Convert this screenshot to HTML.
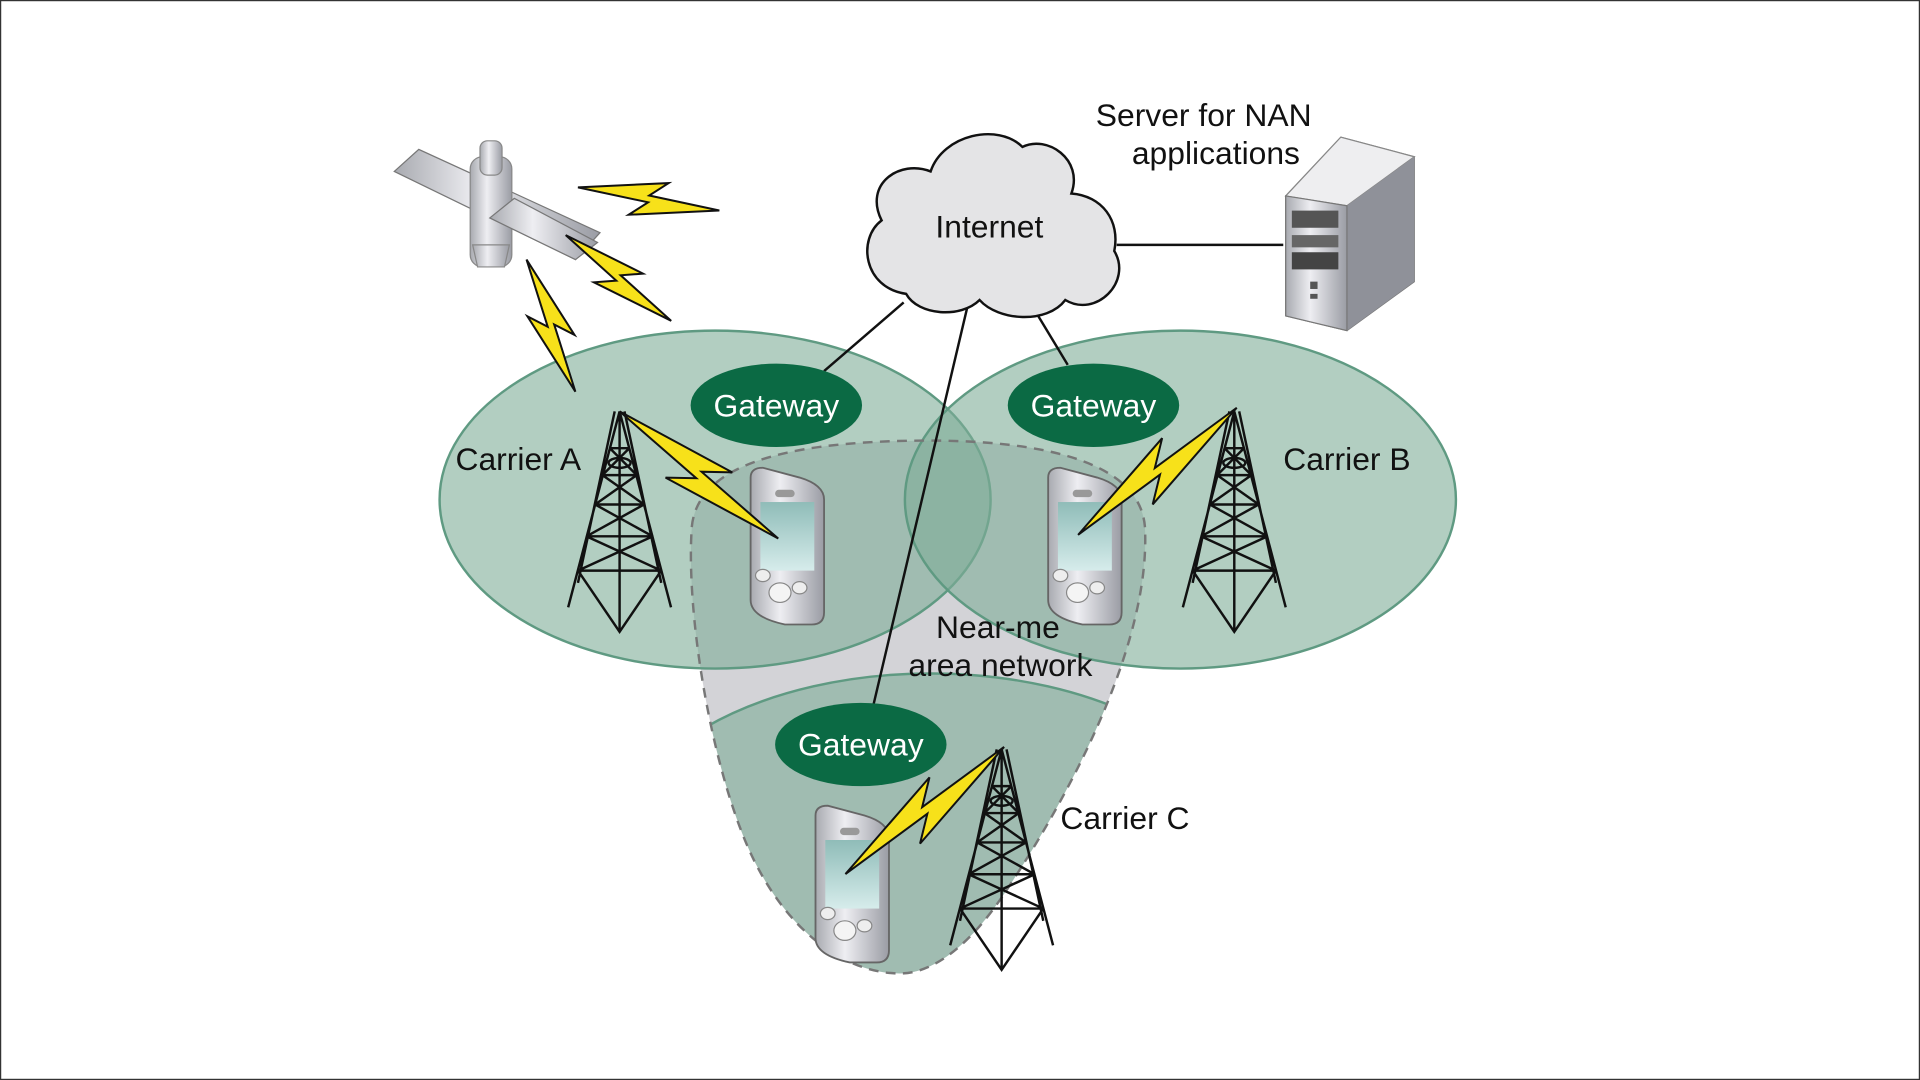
<!DOCTYPE html>
<html><head><meta charset="utf-8"><style>
html,body{margin:0;padding:0;background:#fff;width:1920px;height:1080px;overflow:hidden}
svg{display:block}
text{font-family:"Liberation Sans",sans-serif}
</style></head><body>
<svg width="1920" height="1080" viewBox="0 0 1568 882" xmlns="http://www.w3.org/2000/svg">
<defs>
<clipPath id="nan"><path id="nanp" d="M565,430 C570,380 640,362 740,360 C830,358 930,370 935,430 C940,520 880,640 820,730 C790,775 760,795 735,795 C690,795 640,760 610,690 C580,620 560,500 565,430 Z"/></clipPath>
<linearGradient id="metal" x1="0" x2="1"><stop offset="0" stop-color="#a8aab0"/><stop offset="0.4" stop-color="#eeeef2"/><stop offset="1" stop-color="#9a9ca4"/></linearGradient>
<linearGradient id="scr" x1="0" y1="0" x2="0" y2="1"><stop offset="0" stop-color="#8fbcb8"/><stop offset="1" stop-color="#d6eceb"/></linearGradient>
<polygon id="bolt" points="0,0 0.62,-0.11 0.5,-0.02 1,0 0.38,0.11 0.5,0.02" fill="#f7e11a" stroke="#111" stroke-width="2" vector-effect="non-scaling-stroke" stroke-linejoin="miter"/>
<g id="tower" fill="none" stroke="#111" stroke-width="2">
<path d="M0,0 L-42,160 M0,0 L42,160 M0,0 V180 M-4,0 L-34,140 M4,0 L34,140"/>
<path d="M-8,30 H8 M-14,52 H14 M-20,76 H20 M-27,102 H27 M-34,130 H34 M8,30 L-14,52 M-8,30 L14,52 M-14,52 L20,76 M14,52 L-20,76 M-20,76 L27,102 M20,76 L-27,102 M-27,102 L34,130 M27,102 L-34,130 M-34,130 L0,180 L34,130"/>
<ellipse cx="0" cy="42" rx="9" ry="4"/>
</g>
<g id="phone">
<path d="M0,8 Q0,0 10,0 L40,8 Q60,14 60,26 V118 Q60,128 50,128 L28,128 Q0,122 0,108 Z" fill="url(#metal)" stroke="#666" stroke-width="1.5"/>
<rect x="8" y="28" width="44" height="56" fill="url(#scr)"/>
<rect x="20" y="18" width="16" height="6" rx="3" fill="#999"/>
<ellipse cx="10" cy="88" rx="6" ry="5" fill="#eee" stroke="#888"/>
<ellipse cx="24" cy="102" rx="9" ry="8" fill="#f4f4f4" stroke="#888"/>
<ellipse cx="40" cy="98" rx="6" ry="5" fill="#eee" stroke="#888"/>
</g>
</defs>
<rect x="0.5" y="0.5" width="1567" height="881" fill="#fff" stroke="#333"/>
<use href="#nanp" fill="#d3d3d7"/>
<ellipse cx="584" cy="408" rx="225" ry="138" fill="#7fae97" fill-opacity="0.6" stroke="#5f9a82" stroke-width="2"/>
<ellipse cx="964" cy="408" rx="225" ry="138" fill="#7fae97" fill-opacity="0.6" stroke="#5f9a82" stroke-width="2"/>
<g clip-path="url(#nan)"><ellipse cx="760" cy="700" rx="260" ry="150" fill="#7fae97" fill-opacity="0.6" stroke="#5f9a82" stroke-width="2"/></g>
<use href="#nanp" fill="none" stroke="#777" stroke-width="2" stroke-dasharray="8,6"/>
<g stroke="#111" stroke-width="2" fill="none">
<line x1="738" y1="247" x2="673" y2="303"/>
<line x1="843" y1="250" x2="872" y2="298"/>
<line x1="793" y1="238" x2="713" y2="577"/>
<line x1="912" y1="200" x2="1048" y2="200"/>
</g>
<path d="M740,240 C705,235 700,195 720,180 C705,150 735,130 760,140 C770,110 815,100 835,120 C855,110 885,130 875,158 C900,160 915,180 910,205 C925,230 895,260 870,245 C855,265 815,262 800,245 C785,260 750,258 740,240 Z" fill="#e4e4e6" stroke="#111" stroke-width="2"/>
<text x="808" y="194" font-size="26" text-anchor="middle" fill="#111">Internet</text>
<path d="M1050,160 L1095,112 L1155,128 L1155,230 L1100,270 L1050,258 Z" fill="#c8c9ce" stroke="#777"/>
<path d="M1050,160 L1095,112 L1155,128 L1100,168 Z" fill="#eeeef0" stroke="#888"/>
<path d="M1100,168 L1155,128 L1155,230 L1100,270 Z" fill="#8f9199"/>
<path d="M1050,160 L1100,168 L1100,270 L1050,258 Z" fill="url(#metal)" stroke="#777"/>
<rect x="1055" y="172" width="38" height="14" fill="#555"/>
<rect x="1055" y="192" width="38" height="10" fill="#666"/>
<rect x="1055" y="206" width="38" height="14" fill="#444"/>
<rect x="1070" y="230" width="6" height="6" fill="#555"/>
<rect x="1070" y="240" width="6" height="4" fill="#555"/>
<text x="983" y="103" font-size="26" text-anchor="middle" fill="#111">Server for NAN</text>
<text x="993" y="134" font-size="26" text-anchor="middle" fill="#111">applications</text>
<path d="M322,140 L342,122 L490,190 L470,212 Z" fill="url(#metal)" stroke="#777"/>
<rect x="384" y="128" width="34" height="90" rx="10" fill="url(#metal)" stroke="#888"/>
<rect x="392" y="115" width="18" height="28" rx="6" fill="url(#metal)" stroke="#888"/>
<path d="M386,200 L416,200 L412,218 L390,218 Z" fill="url(#metal)" stroke="#888"/>
<path d="M400,178 L420,162 L488,198 L470,212 Z" fill="url(#metal)" stroke="#777"/>
<use href="#bolt" transform="translate(472,153) rotate(9.3) scale(117,140)"/>
<use href="#bolt" transform="translate(462,192) rotate(39.1) scale(111,140)"/>
<use href="#bolt" transform="translate(430,212) rotate(69.7) scale(115,140)"/>
<use href="#tower" x="506" y="336"/>
<use href="#tower" x="1008" y="336"/>
<use href="#tower" x="818" y="612"/>
<use href="#phone" x="613" y="382"/>
<use href="#phone" x="856" y="382"/>
<use href="#phone" x="666" y="658"/>
<use href="#bolt" transform="translate(506,336) rotate(38.7) scale(166,170)"/>
<use href="#bolt" transform="translate(1010,333) rotate(141.3) scale(166,170)"/>
<use href="#bolt" transform="translate(820,610) rotate(141.3) scale(166,170)"/>
<g fill="#0b6a44">
<ellipse cx="634" cy="331" rx="70" ry="34"/>
<ellipse cx="893" cy="331" rx="70" ry="34"/>
<ellipse cx="703" cy="608" rx="70" ry="34"/>
</g>
<g fill="#fff" font-size="26" text-anchor="middle">
<text x="634" y="340">Gateway</text>
<text x="893" y="340">Gateway</text>
<text x="703" y="617">Gateway</text>
</g>
<g fill="#111" font-size="26">
<text x="372" y="384">Carrier A</text>
<text x="1048" y="384">Carrier B</text>
<text x="866" y="677">Carrier C</text>
<text x="815" y="521" text-anchor="middle">Near-me</text>
<text x="817" y="552" text-anchor="middle">area network</text>
</g>
</svg>
</body></html>
